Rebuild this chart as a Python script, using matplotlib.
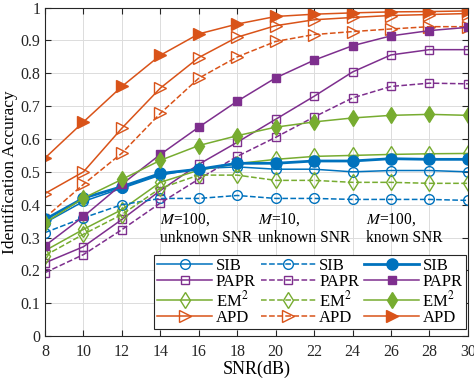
import numpy as np
import matplotlib
matplotlib.use("Agg")
import matplotlib.pyplot as plt

plt.rcParams['font.family'] = ['Liberation Serif', 'DejaVu Serif']
plt.rcParams['mathtext.fontset'] = 'stix'

snr = [8, 10, 12, 14, 16, 18, 20, 22, 24, 26, 28, 30]

# M=100, unknown SNR
sib_u100 = [0.345, 0.41, 0.45, 0.49, 0.51, 0.515, 0.508, 0.508, 0.50, 0.504, 0.504, 0.50]
papr_u100 = [0.223, 0.272, 0.355, 0.443, 0.523, 0.59, 0.66, 0.73, 0.804, 0.856, 0.872, 0.872]
em2_u100 = [0.26, 0.325, 0.385, 0.468, 0.505, 0.525, 0.538, 0.547, 0.55, 0.553, 0.555, 0.556]
apd_u100 = [0.434, 0.50, 0.633, 0.755, 0.848, 0.91, 0.945, 0.963, 0.97, 0.976, 0.979, 0.982]

# M=10, unknown SNR
sib_u10 = [0.315, 0.36, 0.40, 0.419, 0.419, 0.428, 0.419, 0.419, 0.416, 0.416, 0.416, 0.413]
papr_u10 = [0.193, 0.248, 0.324, 0.405, 0.478, 0.547, 0.605, 0.667, 0.725, 0.76, 0.77, 0.768]
em2_u10 = [0.245, 0.31, 0.37, 0.45, 0.49, 0.49, 0.474, 0.474, 0.468, 0.468, 0.465, 0.465]
apd_u10 = [0.36, 0.462, 0.557, 0.678, 0.785, 0.85, 0.897, 0.918, 0.927, 0.935, 0.942, 0.942]

# M=100, known SNR
sib_k100 = [0.355, 0.42, 0.455, 0.495, 0.508, 0.526, 0.526, 0.533, 0.533, 0.54, 0.538, 0.538]
papr_k100 = [0.275, 0.364, 0.462, 0.553, 0.636, 0.715, 0.786, 0.84, 0.884, 0.914, 0.93, 0.94]
em2_k100 = [0.345, 0.42, 0.477, 0.535, 0.58, 0.61, 0.636, 0.652, 0.664, 0.672, 0.675, 0.672]
apd_k100 = [0.542, 0.652, 0.76, 0.855, 0.92, 0.95, 0.973, 0.98, 0.984, 0.987, 0.988, 0.99]

blue = '#0072BD'
orange = '#D95319'
purple = '#7E2F8E'
green = '#77AC30'

fig = plt.figure(figsize=(4.74, 3.81), dpi=100)
ax = fig.add_axes([0.095, 0.118, 0.892, 0.862])

lw = 1.1
ms = 7

# column 1: M=100 unknown SNR, hollow markers, solid line
ax.plot(snr, sib_u100, '-', color=blue, marker='o', mfc='none', ms=ms, lw=lw, label='SIB')
ax.plot(snr, papr_u100, '-', color=purple, marker='s', mfc='none', ms=ms - 1, lw=lw, label='PAPR')
ax.plot(snr, em2_u100, '-', color=green, marker='d', mfc='none', ms=ms + 1, lw=lw, label='EM$^2$')
ax.plot(snr, apd_u100, '-', color=orange, marker='>', mfc='none', ms=ms + 1, lw=lw, label='APD')

# column 2: M=10 unknown SNR, dashed
ax.plot(snr, sib_u10, '--', color=blue, marker='o', mfc='none', ms=ms, lw=lw, label='SIB')
ax.plot(snr, papr_u10, '--', color=purple, marker='s', mfc='none', ms=ms - 1, lw=lw, label='PAPR')
ax.plot(snr, em2_u10, '--', color=green, marker='d', mfc='none', ms=ms + 1, lw=lw, label='EM$^2$')
ax.plot(snr, apd_u10, '--', color=orange, marker='>', mfc='none', ms=ms + 1, lw=lw, label='APD')

# column 3: M=100 known SNR, filled
ax.plot(snr, sib_k100, '-', color=blue, marker='o', ms=ms + 1, lw=2.0, label='SIB')
ax.plot(snr, papr_k100, '-', color=purple, marker='s', ms=ms - 1, lw=lw, label='PAPR')
ax.plot(snr, em2_k100, '-', color=green, marker='d', ms=ms + 1, lw=lw, label='EM$^2$')
ax.plot(snr, apd_k100, '-', color=orange, marker='>', ms=ms + 1, lw=lw, label='APD')

ax.set_xlim(8, 30)
ax.set_ylim(0, 1)
ax.set_xticks(np.arange(8, 31, 2))
ax.set_yticks(np.arange(0, 1.01, 0.1))
ax.set_yticklabels(['0', '0.1', '0.2', '0.3', '0.4', '0.5', '0.6', '0.7', '0.8', '0.9', '1'])
ax.grid(True, color='#dcdcdc', lw=0.7)
ax.set_axisbelow(True)
ax.tick_params(direction='in', labelsize=11.5, length=4, top=True, right=True, colors='#262626')
ax.tick_params(axis='x', pad=6)
for s in ax.spines.values():
    s.set_color('#262626')
    s.set_linewidth(0.8)
ax.set_xlabel('SNR(dB)', fontsize=13, labelpad=0)
ax.set_ylabel('Identification Accuracy', fontsize=12.5, labelpad=2)

ax.text(14.0, 0.327, '$M$=100,\nunknown SNR', fontsize=11.2, va='center', ha='left', linespacing=1.1)
ax.text(19.1, 0.327, '$M$=10,\nunknown SNR', fontsize=11.2, va='center', ha='left', linespacing=1.1)
ax.text(24.7, 0.327, '$M$=100,\nknown SNR', fontsize=11.2, va='center', ha='left', linespacing=1.1)

leg = ax.legend(ncol=3, loc='lower right', bbox_to_anchor=(0.995, 0.02), fontsize=12,
                handlelength=3.3, columnspacing=0.3, handletextpad=0.2, labelspacing=0.0,
                borderpad=0.2, borderaxespad=0.0, fancybox=False, framealpha=1)
leg.get_frame().set_edgecolor('#262626')
leg.get_frame().set_linewidth(0.8)

fig.savefig('out.png', dpi=100)
